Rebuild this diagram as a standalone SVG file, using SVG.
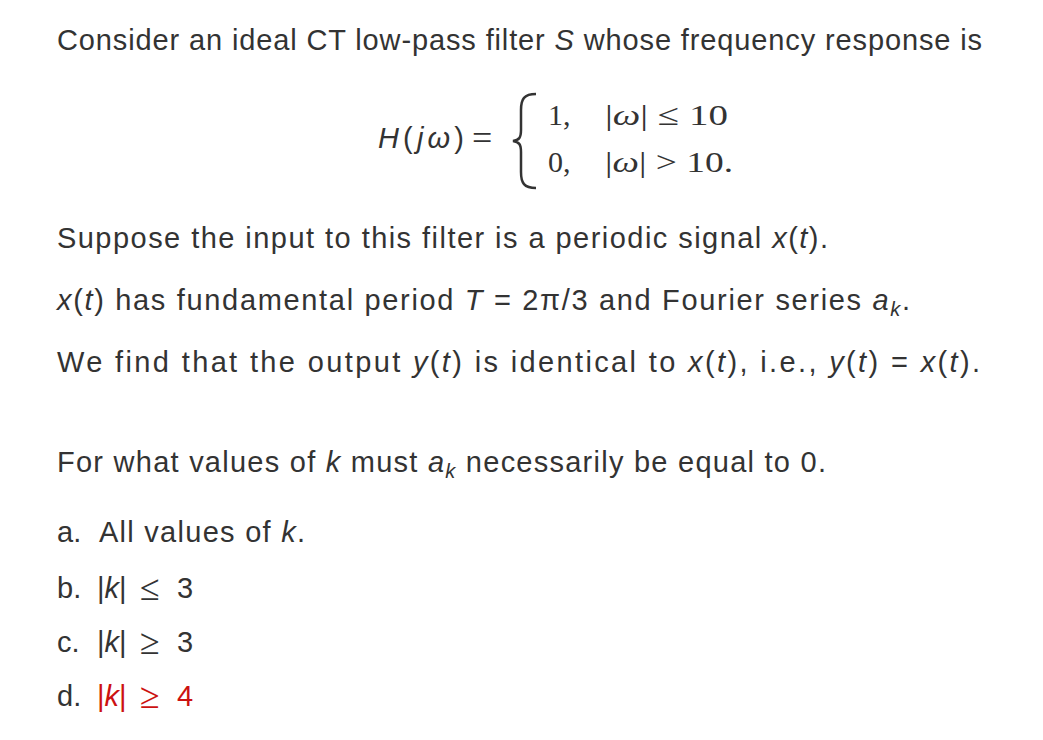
<svg xmlns="http://www.w3.org/2000/svg" width="1043" height="740" viewBox="0 0 1043 740">
<style>
text{font-family:"Liberation Sans","DejaVu Sans",sans-serif;font-size:29px;fill:#333}
.m{font-family:"Liberation Serif","DejaVu Serif",serif;font-size:30px}
.rel{font-family:"Liberation Serif","DejaVu Serif",serif;font-size:36px}
.i{font-style:italic}
.r{fill:#cc1111}
</style>
<rect width="1043" height="740" fill="#fff"/>
<text x="57" y="50" textLength="925" lengthAdjust="spacing">Consider an ideal CT low-pass filter <tspan class="i">S</tspan> whose frequency response is</text>
<g id="eq">
<text x="378" y="148" textLength="86" lengthAdjust="spacing"><tspan class="i">H</tspan>(<tspan class="i">jω</tspan>)</text>
<text class="rel" x="472" y="150">=</text>
<path d="M536,94 C524,94 521,99 521,110 L521,130 C521,138 519,140 513,141 C519,142 521,144 521,152 L521,172 C521,183 524,188 536,188" fill="none" stroke="#333" stroke-width="2.5"/>
<text class="m" x="548" y="125">1,</text>
<text class="m" x="605" y="125" textLength="123" lengthAdjust="spacingAndGlyphs">|<tspan class="i">ω</tspan>| ≤ 10</text>
<text class="m" x="548" y="172">0,</text>
<text class="m" x="605" y="172" textLength="128" lengthAdjust="spacingAndGlyphs">|<tspan class="i">ω</tspan>| &gt; 10.</text>
</g>
<text x="57" y="248" textLength="771" lengthAdjust="spacing">Suppose the input to this filter is a periodic signal <tspan class="i">x</tspan>(<tspan class="i">t</tspan>).</text>
<text x="57" y="310" textLength="853" lengthAdjust="spacing"><tspan class="i">x</tspan>(<tspan class="i">t</tspan>) has fundamental period <tspan class="i">T</tspan> = 2π/3 and Fourier series <tspan class="i">a</tspan><tspan class="i" font-size="20" dy="6">k</tspan><tspan dy="-6">.</tspan></text>
<text x="57" y="372" textLength="923" lengthAdjust="spacing">We find that the output <tspan class="i">y</tspan>(<tspan class="i">t</tspan>) is identical to <tspan class="i">x</tspan>(<tspan class="i">t</tspan>), i.e., <tspan class="i">y</tspan>(<tspan class="i">t</tspan>) = <tspan class="i">x</tspan>(<tspan class="i">t</tspan>).</text>
<text x="57" y="472" textLength="769" lengthAdjust="spacing">For what values of <tspan class="i">k</tspan> must <tspan class="i">a</tspan><tspan class="i" font-size="20" dy="6">k</tspan><tspan dy="-6"> necessarily be equal to 0.</tspan></text>
<text x="57" y="542">a.</text><text x="99" y="542" textLength="206" lengthAdjust="spacing">All values of <tspan class="i">k</tspan>.</text>
<text x="57" y="598">b.</text><text x="97" y="598">|<tspan class="i">k</tspan>|</text><text class="rel" x="140" y="600">≤</text><text x="177" y="598">3</text>
<text x="57" y="652">c.</text><text x="97" y="652">|<tspan class="i">k</tspan>|</text><text class="rel" x="140" y="654">≥</text><text x="177" y="652">3</text>
<text x="57" y="706">d.</text><text class="r" x="97" y="706">|<tspan class="i">k</tspan>|</text><text class="rel r" x="140" y="708">≥</text><text class="r" x="177" y="706">4</text>
</svg>
